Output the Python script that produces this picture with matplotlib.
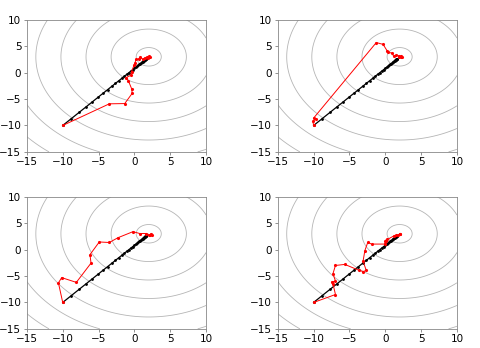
import numpy as np
import matplotlib
matplotlib.use("Agg")
import matplotlib.pyplot as plt

# minimum of the loss surface
center_x = 2.0
center_y = 3.0
contour_levels = [1.75, 5.25, 8.75, 12.25, 15.75, 19.25, 22.75, 26.25]

# full-batch gradient descent path (same in every panel)
gd_x = [-10, -8.8, -7.72, -6.75, -5.87, -5.09, -4.38, -3.74, -3.17, -2.65,
        -2.18, -1.77, -1.39, -1.05, -0.75, -0.47, -0.22, 0.0, 0.2, 0.38,
        0.54, 0.69, 0.82, 0.94, 1.04, 1.14, 1.22, 1.3, 1.37, 1.44, 1.49,
        1.54, 1.59, 1.63, 1.67]
gd_y = [-10, -8.7, -7.53, -6.48, -5.53, -4.68, -3.91, -3.22, -2.6, -2.04,
        -1.53, -1.08, -0.67, -0.3, 0.02, 0.32, 0.59, 0.83, 1.05, 1.24,
        1.42, 1.58, 1.72, 1.85, 1.96, 2.07, 2.15, 2.24, 2.32, 2.39, 2.45,
        2.5, 2.55, 2.6, 2.64]

# stochastic gradient descent runs
sgd1_x = [-10, -3.5, -1.35, -0.3, -0.4, -0.85, -1.2, -0.5, -0.4, -0.05,
          0.1, 0.2, 0.6, 0.8, 1.15, 1.5, 1.8, 2.05, 1.95, 2.2, 2.0]
sgd1_y = [-10, -5.9, -5.85, -3.9, -3.0, -1.5, -0.95, -0.5, 0.2, 1.4,
          1.9, 2.5, 2.6, 2.95, 2.55, 2.85, 2.95, 3.1, 2.85, 3.0, 3.05]

sgd2_x = [-10, -10.1, -9.65, -10.0, -1.25, -0.3, 0.25, 0.35, 1.0, 1.15,
          1.55, 1.85, 2.2, 2.4, 1.95, 2.2]
sgd2_y = [-10, -9.2, -8.7, -8.6, 5.7, 5.35, 4.15, 3.85, 3.7, 3.1,
          3.35, 3.2, 3.1, 2.95, 2.9, 3.0]

sgd3_x = [-10, -10.6, -10.15, -8.1, -6.05, -6.2, -4.9, -3.5, -2.3, -0.2,
          0.75, 1.6, 2.05, 2.4, 2.15, 2.3]
sgd3_y = [-10, -6.3, -5.3, -6.2, -2.55, -0.95, 1.45, 1.35, 2.25, 3.4,
          3.05, 3.05, 2.85, 2.85, 2.7, 3.0]

sgd4_x = [-10, -6.95, -7.3, -7.5, -6.95, -7.3, -6.95, -5.65, -3.6, -3.1,
          -2.65, -3.1, -2.85, -2.45, -1.9, -0.1, 0.05, 0.25, 0.0, 1.2,
          1.55, 2.0, 1.8, 2.05]
sgd4_y = [-10, -8.5, -6.45, -6.15, -5.95, -4.55, -3.0, -2.8, -3.95, -4.15,
          -3.95, -2.2, -0.2, 1.35, 1.05, 1.05, 1.65, 1.95, 1.7, 2.6,
          2.7, 2.9, 2.75, 3.05]

sgd_runs = [(sgd1_x, sgd1_y), (sgd2_x, sgd2_y), (sgd3_x, sgd3_y), (sgd4_x, sgd4_y)]
ticks = [-15, -10, -5, 0, 5, 10]

# loss surface
xs = np.linspace(-15, 10, 300)
ys = np.linspace(-15, 10, 300)
X, Y = np.meshgrid(xs, ys)
Z = np.sqrt((X - center_x) ** 2 + (Y - center_y) ** 2)

fig, axes = plt.subplots(2, 2, figsize=(4.8, 3.48), dpi=100)
fig.subplots_adjust(left=0.056, right=0.952, bottom=0.055, top=0.943,
                    wspace=0.4, hspace=0.34)

for ax, (sx, sy) in zip(axes.flat, sgd_runs):
    ax.contour(X, Y, Z, levels=contour_levels, colors="#b5b5b5", linewidths=0.6)
    ax.plot(gd_x, gd_y, color="black", marker=".", markersize=2, linewidth=0.9)
    ax.plot(sx, sy, color="red", marker=".", markersize=2.5, linewidth=0.7)
    ax.set_xlim(-15, 10)
    ax.set_ylim(-15, 10)
    ax.set_xticks(ticks)
    ax.set_yticks(ticks)
    ax.tick_params(labelsize=7.5, length=2.5, width=0.5, pad=1.5,
                   color="#666666")
    for spine in ax.spines.values():
        spine.set_color("#888888")
        spine.set_linewidth(0.6)

fig.savefig("out.png")
plt.close(fig)
